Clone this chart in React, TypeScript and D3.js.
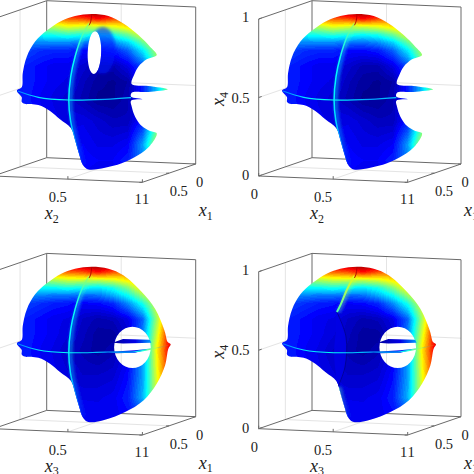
import React from "react";
import * as d3 from "d3";

// colour levels, rows top to bottom, columns left to right
const hCols = [0.2, 0.3, 0.4, 0.5, 0.6, 0.7, 0.8, 0.9, 1.0, 1.1, 1.2];
const vRows = [1.04, 1.0, 0.95, 0.9, 0.85, 0.8, 0.7, 0.6, 0.5, 0.35, 0.2, 0.1, 0.03];
const levelsUpper = [
  [0.8, 0.85, 0.88, 0.92, 0.95, 0.97, 0.95, 0.9, 0.85, 0.8, 0.8],
  [0.7, 0.72, 0.75, 0.78, 0.8, 0.87, 0.8, 0.75, 0.72, 0.7, 0.7],
  [0.5, 0.52, 0.55, 0.6, 0.58, 0.57, 0.6, 0.65, 0.7, 0.7, 0.7],
  [0.38, 0.38, 0.4, 0.42, 0.4, 0.38, 0.4, 0.48, 0.6, 0.7, 0.7],
  [0.26, 0.26, 0.26, 0.26, 0.24, 0.23, 0.26, 0.33, 0.47, 0.62, 0.7],
  [0.2, 0.17, 0.16, 0.16, 0.13, 0.13, 0.15, 0.22, 0.36, 0.55, 0.65],
  [0.15, 0.13, 0.11, 0.11, 0.08, 0.05, 0.05, 0.1, 0.2, 0.5, 0.6],
  [0.15, 0.13, 0.11, 0.1, 0.06, 0.03, 0.02, 0.04, 0.15, 0.33, 0.58],
  [0.15, 0.12, 0.1, 0.08, 0.05, 0.02, 0.02, 0.05, 0.15, 0.33, 0.58],
  [0.15, 0.13, 0.11, 0.1, 0.1, 0.08, 0.06, 0.06, 0.15, 0.45, 0.6],
  [0.15, 0.13, 0.11, 0.1, 0.12, 0.1, 0.1, 0.12, 0.28, 0.58, 0.6],
  [0.13, 0.13, 0.13, 0.13, 0.13, 0.12, 0.12, 0.15, 0.25, 0.45, 0.55],
  [0.12, 0.12, 0.12, 0.12, 0.12, 0.11, 0.11, 0.13, 0.2, 0.35, 0.5],
];
const levelsLower = [
  [0.8, 0.85, 0.88, 0.92, 0.95, 0.97, 0.95, 0.9, 0.85, 0.8, 0.8],
  [0.7, 0.72, 0.75, 0.78, 0.8, 0.87, 0.8, 0.75, 0.72, 0.75, 0.8],
  [0.5, 0.52, 0.55, 0.58, 0.58, 0.57, 0.6, 0.65, 0.72, 0.8, 0.85],
  [0.38, 0.38, 0.38, 0.4, 0.38, 0.36, 0.4, 0.5, 0.65, 0.8, 0.9],
  [0.26, 0.25, 0.24, 0.24, 0.22, 0.23, 0.29, 0.38, 0.52, 0.72, 0.9],
  [0.19, 0.17, 0.15, 0.14, 0.12, 0.13, 0.16, 0.26, 0.4, 0.6, 0.88],
  [0.15, 0.13, 0.11, 0.1, 0.07, 0.05, 0.06, 0.1, 0.22, 0.55, 0.9],
  [0.15, 0.13, 0.11, 0.09, 0.06, 0.03, 0.03, 0.08, 0.25, 0.6, 0.95],
  [0.15, 0.12, 0.1, 0.07, 0.05, 0.03, 0.05, 0.1, 0.28, 0.65, 0.95],
  [0.15, 0.13, 0.11, 0.09, 0.07, 0.07, 0.08, 0.13, 0.28, 0.62, 0.9],
  [0.13, 0.13, 0.12, 0.1, 0.1, 0.1, 0.11, 0.15, 0.3, 0.6, 0.85],
  [0.12, 0.12, 0.12, 0.12, 0.12, 0.11, 0.11, 0.13, 0.2, 0.4, 0.6],
  [0.11, 0.11, 0.11, 0.11, 0.11, 0.11, 0.11, 0.12, 0.18, 0.3, 0.5],
];

// outlines in axis units, [horizontal, x4]
const outlineTop = [
  [0.157, 0.544], [0.19, 0.565], [0.197, 0.654], [0.224, 0.76], [0.28, 0.856], [0.358, 0.926],
  [0.459, 0.989], [0.548, 1.019], [0.66, 1.032], [0.772, 1.019],
];
const outlineNotched = [
  [0.872, 0.972], [0.973, 0.898], [1.051, 0.824], [1.096, 0.771], [1.029, 0.743], [0.973, 0.696],
  [0.944, 0.643], [0.928, 0.586], [1.04, 0.573], [1.17, 0.552], [1.04, 0.535], [0.928, 0.531],
  [0.924, 0.505], [1.0, 0.49], [0.924, 0.48], [0.928, 0.442], [0.951, 0.378], [0.996, 0.318],
  [1.051, 0.287], [1.096, 0.272], [1.051, 0.193], [0.973, 0.134], [0.861, 0.081], [0.749, 0.053],
];
const outlineRound = [
  [0.872, 0.977], [0.996, 0.87], [1.085, 0.764], [1.148, 0.626], [1.17, 0.552], [1.19, 0.537],
  [1.174, 0.51], [1.152, 0.403], [1.096, 0.287], [1.007, 0.18], [0.884, 0.106], [0.749, 0.057],
];
const outlineBottom = [
  [0.638, 0.042], [0.604, 0.066], [0.574, 0.144], [0.548, 0.229], [0.521, 0.304], [0.447, 0.361],
  [0.38, 0.414], [0.302, 0.452], [0.21, 0.46], [0.19, 0.473], [0.19, 0.501],
];
const meridian = [
  [0.642, 0.972], [0.593, 0.887], [0.548, 0.76], [0.519, 0.633], [0.506, 0.484], [0.517, 0.357],
  [0.548, 0.229], [0.597, 0.07],
];
const meridianLevels = [[0.97, 0.55], [0.88, 0.42], [0.7, 0.37], [0.5, 0.36], [0.35, 0.34], [0.23, 0.28], [0.07, 0.15]];
const meridianUpperLevels = [[0.97, 0.6], [0.74, 0.45]];
const meridianLowerLevels = [[0.27, 0.45], [0.06, 0.15]];
const seam = [[0.66, 1.03], [0.652, 0.98], [0.642, 0.96]];
const meridianUpper = [[0.642, 0.972], [0.593, 0.887], [0.55, 0.79], [0.525, 0.743]];
const meridianLower = [[0.532, 0.266], [0.56, 0.17], [0.597, 0.07]];
const lensEdge = [[0.525, 0.743], [0.586, 0.584], [0.579, 0.393], [0.532, 0.266]];
const lensFill = [...lensEdge, [0.517, 0.357], [0.506, 0.484], [0.519, 0.633]];
const equatorUpper = [[0.163, 0.541], [0.302, 0.501], [0.503, 0.484], [0.749, 0.488], [0.924, 0.499]];
const equatorLower = [[0.163, 0.541], [0.302, 0.501], [0.503, 0.484], [0.749, 0.488], [0.948, 0.49], [1.083, 0.512], [1.183, 0.533]];
const equatorLevels = [[0.17, 0.25], [0.3, 0.35], [0.5, 0.38], [0.75, 0.28], [0.93, 0.33], [1.0, 0.4], [1.09, 0.55], [1.18, 0.85]];
const bandInHole = [[0.8, 0.548], [0.87, 0.572], [1.05, 0.566], [1.06, 0.548], [0.87, 0.543]];
const bandLevels = [[0.8, 0.03], [0.95, 0.1], [1.06, 0.28]];
const wedgeInHole = [[0.76, 0.488], [0.95, 0.5], [1.07, 0.512], [0.95, 0.483], [0.82, 0.48]];
const wedgeLevels = [[0.76, 0.05], [0.95, 0.12], [1.07, 0.4]];
const slitHole = { h: 0.678, v: 0.786, rh: 0.045, rv: 0.132, tilt: 2 };
const slitHalo = { h: 0.735, v: 0.8, rh: 0.085, rv: 0.15 };
const roundHole = { h: 0.933, v: 0.518, rh: 0.123, rv: 0.132 };

const tickValues = [0, 0.5, 1];
const panels = [
  { tx: -28.3, ty: 0, label: "2", kind: "slit", leftCut: true },
  { tx: 237, ty: 0, label: "2", kind: "plain", leftCut: false },
  { tx: -28.3, ty: 252.7, label: "3", kind: "round", leftCut: true },
  { tx: 237, ty: 252.7, label: "3", kind: "lens", leftCut: false },
];

// screen plane of one panel
const hScale = d3.scaleLinear().domain([0, 1]).range([21.7, 170.7]);
const vScale = d3.scaleLinear().domain([0, 1]).range([176, 19]);
// box edges: horizontal axis runs along the front, x1 runs from front (1) to back (0)
const alongX = d3.scaleLinear().domain([0, 1]).range([0, 149]);
const alongXy = d3.scaleLinear().domain([0, 1]).range([0, 6.3]);
const depthX = d3.scaleLinear().domain([1, 0]).range([0, 53.3]);
const depthY = d3.scaleLinear().domain([1, 0]).range([0, -18.3]);
const box = (a: number, d: number, z: number): [number, number] => [
  hScale(0) + alongX(a) + depthX(d),
  vScale(z) + alongXy(a) + depthY(d),
];

const jet = d3
  .scaleLinear<string>()
  .domain([0, 0.125, 0.375, 0.625, 0.875, 1])
  .range(["#000080", "#0000ff", "#00ffff", "#ffff00", "#ff0000", "#800000"])
  .clamp(true);

const colIndex = d3.scaleLinear().domain(hCols).range(hCols.map((_, i) => i)).clamp(true);
const rowIndex = d3.scaleLinear().domain(vRows).range(vRows.map((_, i) => i)).clamp(true);

function levelAt(table: number[][], h: number, v: number) {
  const c = colIndex(h);
  const r = rowIndex(v);
  const c0 = Math.min(Math.floor(c), hCols.length - 2);
  const r0 = Math.min(Math.floor(r), vRows.length - 2);
  const fc = c - c0;
  const fr = r - r0;
  const top = table[r0][c0] * (1 - fc) + table[r0][c0 + 1] * fc;
  const bot = table[r0 + 1][c0] * (1 - fc) + table[r0 + 1][c0 + 1] * fc;
  return top * (1 - fr) + bot * fr;
}

// one path per colormap entry, like a 64 colour figure
function rasterPaths(table: number[][]) {
  const paths: string[] = d3.range(64).map(() => "");
  for (let py = 0; py < 180; py++) {
    let start = 0;
    let cur = -1;
    for (let px = 40; px <= 215; px++) {
      const lv = px === 215 ? -1 : Math.round(levelAt(table, hScale.invert(px + 0.5), vScale.invert(py + 0.5)) * 63);
      if (lv !== cur) {
        if (cur >= 0) paths[cur] += `M${start} ${py}h${px - start}v1h${start - px}z`;
        start = px;
        cur = lv;
      }
    }
  }
  return paths;
}
const rasterUpper = rasterPaths(levelsUpper);
const rasterLower = rasterPaths(levelsLower);

const straight = d3
  .line<number[]>()
  .x((d) => hScale(d[0]))
  .y((d) => vScale(d[1]));
const smoothClosed = d3
  .line<number[]>()
  .x((d) => hScale(d[0]))
  .y((d) => vScale(d[1]))
  .curve(d3.curveCatmullRomClosed.alpha(0.5));
const smoothOpen = d3
  .line<number[]>()
  .x((d) => hScale(d[0]))
  .y((d) => vScale(d[1]))
  .curve(d3.curveCatmullRom.alpha(0.5));

function ellipsePath(e: { h: number; v: number; rh: number; rv: number; tilt?: number }) {
  const cx = hScale(e.h);
  const cy = vScale(e.v);
  const rx = alongX(e.rh);
  const ry = vScale(0) - vScale(e.rv);
  const t = e.tilt || 0;
  return `M${cx - rx} ${cy}A${rx} ${ry} ${t} 1 1 ${cx + rx} ${cy}A${rx} ${ry} ${t} 1 1 ${cx - rx} ${cy}Z`;
}

function Gradient({ id, stops, axis }: { id: string; stops: number[][]; axis: "h" | "v" }) {
  const scale = axis === "h" ? hScale : vScale;
  const a = scale(stops[0][0]);
  const b = scale(stops[stops.length - 1][0]);
  const pos = d3.scaleLinear().domain([a, b]).range([0, 1]);
  return (
    <linearGradient
      id={id}
      gradientUnits="userSpaceOnUse"
      x1={axis === "h" ? a : 0}
      x2={axis === "h" ? b : 0}
      y1={axis === "v" ? a : 0}
      y2={axis === "v" ? b : 0}
    >
      {stops.map((s, i) => (
        <stop key={i} offset={pos(scale(s[0]))} stopColor={jet(s[1])} />
      ))}
    </linearGradient>
  );
}

const GRID = "#e4e4e4";
const AXIS = "#6a6a6a";
const SERIF = "'Liberation Serif', serif";

function Seg({ a, b, color, w = 1 }: { a: [number, number]; b: [number, number]; color: string; w?: number }) {
  return <line x1={a[0]} y1={a[1]} x2={b[0]} y2={b[1]} stroke={color} strokeWidth={w} />;
}

function Panel({ p, idx }: { p: (typeof panels)[number]; idx: number }) {
  const upper = p.kind === "slit" || p.kind === "plain";
  const outline = [...outlineTop, ...(upper ? outlineNotched : outlineRound), ...outlineBottom];
  let clip = smoothClosed(outline) as string;
  if (p.kind === "slit") clip += ellipsePath(slitHole);
  if (p.kind === "round" || p.kind === "lens") clip += ellipsePath(roundHole);
  const raster = upper ? rasterUpper : rasterLower;
  const clipId = `surface-${idx}`;
  const equator = upper ? equatorUpper : equatorLower;

  return (
    <g transform={`translate(${p.tx},${p.ty})`}>
      <clipPath id={clipId}>
        <path d={clip} clipRule="evenodd" />
      </clipPath>

      {/* back walls and floor */}
      <Seg a={box(0.5, 0, 0)} b={box(0.5, 0, 1)} color={GRID} />
      <Seg a={box(0, 0.5, 0)} b={box(0, 0.5, 1)} color={GRID} />
      <Seg a={box(0, 1, 0.5)} b={box(0, 0, 0.5)} color={GRID} />
      <Seg a={box(0, 0, 0.5)} b={box(1, 0, 0.5)} color={GRID} />
      <Seg a={box(0.5, 1, 0)} b={box(0.5, 0, 0)} color={GRID} />
      <Seg a={box(0, 0.5, 0)} b={box(1, 0.5, 0)} color={GRID} />
      <Seg a={box(0, 0, 0)} b={box(0, 0, 1)} color={AXIS} />
      <Seg a={box(0, 0, 1)} b={box(1, 0, 1)} color={AXIS} />
      <Seg a={box(1, 0, 1)} b={box(1, 0, 0)} color={AXIS} />
      <Seg a={box(0, 0, 0)} b={box(1, 0, 0)} color={AXIS} />
      <Seg a={box(0, 1, 1)} b={box(0, 0, 1)} color={AXIS} />
      <Seg a={box(0, 1, 0)} b={box(0, 0, 0)} color={AXIS} />
      <Seg a={box(0, 1, 0)} b={box(0, 1, 1)} color={AXIS} />
      <Seg a={box(0, 1, 0)} b={box(1, 1, 0)} color={AXIS} />
      <Seg a={box(1, 1, 0)} b={box(1, 0, 0)} color={AXIS} />

      {tickValues.map((t) => {
        const [ax, ay] = box(t, 1, 0);
        const [dx, dy] = box(1, t, 0);
        const [zx, zy] = box(0, 1, t);
        return (
          <g key={t}>
            <line x1={ax} y1={ay} x2={ax} y2={ay - 3} stroke={AXIS} />
            <line x1={dx} y1={dy} x2={dx - 3} y2={dy + 0.1} stroke={AXIS} />
            <line x1={zx} y1={zy} x2={zx + 3} y2={zy - 1} stroke={AXIS} />
          </g>
        );
      })}

      <g filter="url(#soft)">
        <g clipPath={`url(#${clipId})`}>
          {raster.map((d, i) => (d ? <path key={i} d={d} fill={jet(i / 63)} shapeRendering="crispEdges" /> : null))}
          {p.kind === "slit" && (
            <path d={ellipsePath(slitHalo)} fill={jet(0.15)} opacity={0.55} filter="url(#glow)" />
          )}
          {p.kind === "lens" ? (
            <g>
              <path d={smoothClosed(lensFill) as string} fill={jet(0.1)} opacity={0.9} />
              <g transform="translate(1.5,0)" filter="url(#glow)" opacity={0.4}>
                <path d={smoothOpen(meridianUpper) as string} fill="none" stroke="url(#meridianUpperGrad)" strokeWidth={4} />
                <path d={smoothOpen(meridianLower) as string} fill="none" stroke="url(#meridianLowerGrad)" strokeWidth={4} />
              </g>
              <path d={smoothOpen(lensEdge) as string} fill="none" stroke={jet(0)} strokeWidth={1} opacity={0.7} />
              <path d={smoothOpen(meridianUpper) as string} fill="none" stroke="url(#meridianUpperGrad)" strokeWidth={2} />
              <path d={smoothOpen(meridianLower) as string} fill="none" stroke="url(#meridianLowerGrad)" strokeWidth={2} />
            </g>
          ) : (
            <g>
              <path
                d={smoothOpen(meridian) as string}
                transform="translate(1.8,0)"
                fill="none"
                stroke="url(#meridianGrad)"
                strokeWidth={4}
                opacity={0.4}
                filter="url(#glow)"
              />
              <path d={smoothOpen(meridian) as string} fill="none" stroke="url(#meridianGrad)" strokeWidth={1.5} />
            </g>
          )}
          <path d={smoothOpen(seam) as string} fill="none" stroke={jet(0.95)} strokeWidth={1} />
        </g>
        {!upper && (
          <g>
            <path d={straight(bandInHole) as string} fill="url(#bandGrad)" />
            <path d={straight(wedgeInHole) as string} fill="url(#wedgeGrad)" />
          </g>
        )}
        <path d={smoothOpen(equator) as string} fill="none" stroke="url(#equatorGrad)" strokeWidth={1.1} />
      </g>

      {/* tick labels */}
      <g fontFamily={SERIF} fontSize={14.5} fill="#222" textAnchor="middle">
        <text x={86} y={202}>0.5</text>
        <text x={166.5} y={204}>1</text>
        <text x={174} y={204}>1</text>
        <text x={207} y={196}>0.5</text>
        <text x={228} y={187}>0</text>
        {!p.leftCut && (
          <g>
            <text x={17.3} y={199}>0</text>
            <text x={8.7} y={22}>1</text>
            <text x={3.5} y={102.5}>0.5</text>
            <text x={8.7} y={180}>0</text>
          </g>
        )}
      </g>

      {/* axis names */}
      <g fontFamily={SERIF} fill="#222">
        <text x={73} y={219} fontSize={18} fontStyle="italic">
          x<tspan fontSize={12} dy={3.5} fontStyle="normal">{p.label}</tspan>
        </text>
        <text x={227} y={216} fontSize={18} fontStyle="italic">
          x<tspan fontSize={12} dy={3.5} fontStyle="normal">1</tspan>
        </text>
        {!p.leftCut && (
          <text transform="translate(-13,106) rotate(-90)" fontSize={18} fontStyle="italic">
            x<tspan fontSize={12} dy={3.5} fontStyle="normal">4</tspan>
          </text>
        )}
      </g>
    </g>
  );
}

export default function App() {
  return (
    <svg width={474} height={474} style={{ position: "fixed", left: 0, top: 0, background: "#fff" }}>
      <defs>
        <filter id="soft" x="-10%" y="-10%" width="120%" height="120%">
          <feGaussianBlur stdDeviation={0.45} />
        </filter>
        <filter id="glow" x="-50%" y="-20%" width="200%" height="140%">
          <feGaussianBlur stdDeviation={1.6} />
        </filter>
        <Gradient id="meridianGrad" stops={meridianLevels} axis="v" />
        <Gradient id="meridianUpperGrad" stops={meridianUpperLevels} axis="v" />
        <Gradient id="meridianLowerGrad" stops={meridianLowerLevels} axis="v" />
        <Gradient id="equatorGrad" stops={equatorLevels} axis="h" />
        <Gradient id="bandGrad" stops={bandLevels} axis="h" />
        <Gradient id="wedgeGrad" stops={wedgeLevels} axis="h" />
      </defs>
      {panels.map((p, i) => (
        <Panel key={i} p={p} idx={i} />
      ))}
    </svg>
  );
}
